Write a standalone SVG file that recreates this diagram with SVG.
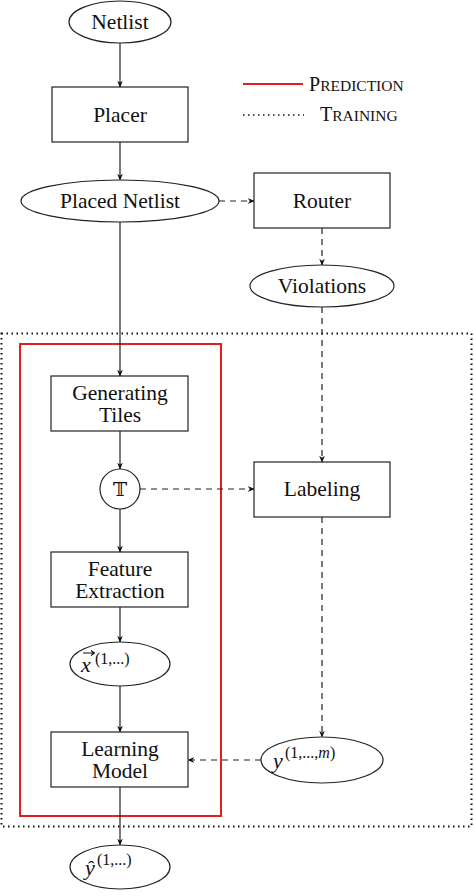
<svg xmlns="http://www.w3.org/2000/svg" width="474" height="896" viewBox="0 0 474 896">
<defs>
<marker id="ah" viewBox="0 0 10 10" refX="9" refY="5" markerWidth="7" markerHeight="7" orient="auto" markerUnits="userSpaceOnUse">
<path d="M0,1 L10,5 L0,9 L3,5 z" fill="#111"/>
</marker>
<style>
.n{fill:#fff;stroke:#222;stroke-width:1.2}
.s{stroke:#222;stroke-width:1.2;fill:none;marker-end:url(#ah)}
.d{stroke:#222;stroke-width:1.2;fill:none;stroke-dasharray:6 5;marker-end:url(#ah)}
</style>
</defs>
<rect width="474" height="896" fill="#fff"/>
<rect x="1.5" y="333.5" width="470" height="493" fill="none" stroke="#111" stroke-width="2" stroke-dasharray="1.5 3.5"/>
<rect x="20" y="344" width="201" height="472" fill="none" stroke="#e02020" stroke-width="2"/>
<g id="legend" font-family="Liberation Serif, Times New Roman, serif">
<line x1="243" y1="84" x2="303" y2="84" stroke="#e02020" stroke-width="2"/>
<text x="309" y="91" font-size="20" fill="#111">P<tspan font-size="15.5">REDICTION</tspan></text>
<line x1="243" y1="115" x2="304" y2="115" stroke="#111" stroke-width="1.5" stroke-dasharray="1.5 3.5"/>
<text x="320" y="121" font-size="20" fill="#111">T<tspan font-size="15.5">RAINING</tspan></text>
</g>
<g id="connectors">
<line class="s" x1="120" y1="43" x2="120" y2="87"/>
<line class="s" x1="120" y1="142" x2="120" y2="180"/>
<line class="s" x1="120" y1="222" x2="120" y2="376"/>
<line class="s" x1="120" y1="431" x2="120" y2="469"/>
<line class="s" x1="120" y1="509" x2="120" y2="552"/>
<line class="s" x1="120" y1="607" x2="120" y2="642"/>
<line class="s" x1="120" y1="686" x2="120" y2="732"/>
<line class="s" x1="120" y1="787" x2="120" y2="845"/>
<line class="d" x1="219" y1="201" x2="254" y2="201"/>
<line class="d" x1="322" y1="228" x2="322" y2="265"/>
<line class="d" x1="322" y1="307" x2="322" y2="462"/>
<line class="d" x1="140" y1="489" x2="254" y2="489"/>
<line class="d" x1="322" y1="517" x2="322" y2="737"/>
<line class="d" x1="261" y1="760" x2="188" y2="760"/>
</g>
<g font-family="Liberation Serif, Times New Roman, serif" font-size="21.5" fill="#111" text-anchor="middle">
<g id="netlist"><ellipse class="n" cx="120" cy="22" rx="51" ry="21"/><text x="120" y="29">Netlist</text></g>
<g id="placer"><rect class="n" x="52" y="87" width="136" height="55"/><text x="120" y="122">Placer</text></g>
<g id="placed"><ellipse class="n" cx="120" cy="201" rx="99" ry="21"/><text x="120" y="208">Placed Netlist</text></g>
<g id="router"><rect class="n" x="254" y="173" width="136" height="55"/><text x="322" y="208">Router</text></g>
<g id="violations"><ellipse class="n" cx="322" cy="286" rx="72" ry="21"/><text x="322" y="293">Violations</text></g>
<g id="tiles"><rect class="n" x="51" y="376" width="137" height="55"/><text x="120" y="400">Generating</text><text x="120" y="422">Tiles</text></g>
<g id="T"><circle class="n" cx="120" cy="489" r="20"/><text x="120" y="496" font-family="DejaVu Serif, DejaVu Sans, serif" font-size="19">𝕋</text></g>
<g id="labeling"><rect class="n" x="254" y="462" width="136" height="55"/><text x="322" y="496">Labeling</text></g>
<g id="feature"><rect class="n" x="51" y="552" width="137" height="55"/><text x="120" y="576">Feature</text><text x="120" y="598">Extraction</text></g>
<g id="learning"><rect class="n" x="51" y="732" width="137" height="55"/><text x="120" y="756">Learning</text><text x="120" y="778">Model</text></g>
</g>
<g font-family="Liberation Serif, Times New Roman, serif" fill="#111">
<g id="xvec"><ellipse class="n" cx="120" cy="664" rx="50" ry="22"/>
<path d="M83,653 L94,653 M91,650.5 L94.5,653 L91,655.5" stroke="#111" stroke-width="1.1" fill="none"/>
<text x="81" y="672" font-size="22" font-style="italic">x</text><text x="95" y="664" font-size="16">(1,...)</text></g>
<g id="yvec"><ellipse class="n" cx="322" cy="760" rx="61" ry="23"/><text x="273" y="768" font-size="22" font-style="italic">y</text><text x="285" y="758" font-size="16">(1,...,<tspan font-style="italic">m</tspan>)</text></g>
<g id="yhat"><ellipse class="n" cx="120" cy="867" rx="50" ry="22"/><text x="85" y="875" font-size="22" font-style="italic">ŷ</text><text x="97" y="865" font-size="16">(1,...)</text></g>
</g>
</svg>
